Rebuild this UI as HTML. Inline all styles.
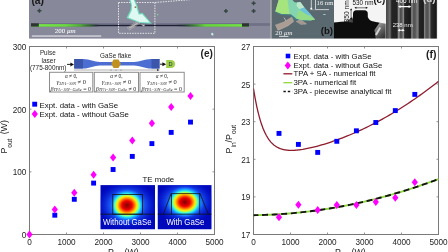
<!DOCTYPE html><html><head><meta charset="utf-8"><style>html,body{margin:0;padding:0;background:#fff;width:448px;height:252px;overflow:hidden}svg{display:block}</style></head><body><svg width="448" height="252" viewBox="0 0 448 252"><defs><filter id="b03" x="-20%" y="-20%" width="140%" height="140%"><feGaussianBlur stdDeviation="0.3"/></filter><filter id="b05" x="-20%" y="-20%" width="140%" height="140%"><feGaussianBlur stdDeviation="0.5"/></filter><filter id="b1" x="-30%" y="-30%" width="160%" height="160%"><feGaussianBlur stdDeviation="1"/></filter><filter id="b2" x="-30%" y="-30%" width="160%" height="160%"><feGaussianBlur stdDeviation="2"/></filter><radialGradient id="jet" cx="0.5" cy="0.5" r="0.5"><stop offset="0" stop-color="#800000"/><stop offset="0.12" stop-color="#b00000"/><stop offset="0.27" stop-color="#ee0000"/><stop offset="0.37" stop-color="#ff5000"/><stop offset="0.45" stop-color="#ffa000"/><stop offset="0.53" stop-color="#ffe800"/><stop offset="0.6" stop-color="#b0ff50"/><stop offset="0.68" stop-color="#40ffd8"/><stop offset="0.76" stop-color="#18c0ff"/><stop offset="0.87" stop-color="#1a70ff"/><stop offset="1" stop-color="#1040ff" stop-opacity="0"/></radialGradient><radialGradient id="glow" cx="0.5" cy="0.5" r="0.5"><stop offset="0" stop-color="#48b0ff"/><stop offset="0.5" stop-color="#2070ff"/><stop offset="1" stop-color="#0a20e0" stop-opacity="0"/></radialGradient><linearGradient id="wg" x1="31" x2="249" y1="0" y2="0" gradientUnits="userSpaceOnUse"><stop offset="0" stop-color="#7ce84c"/><stop offset="0.12" stop-color="#6cd840"/><stop offset="0.26" stop-color="#3c6a48"/><stop offset="0.32" stop-color="#1c1c3a"/><stop offset="0.68" stop-color="#1c1c3a"/><stop offset="0.76" stop-color="#4a9a40"/><stop offset="0.82" stop-color="#70dc44"/><stop offset="1" stop-color="#7ce84c"/></linearGradient><linearGradient id="cgr" x1="0" x2="1" y1="0" y2="1"><stop offset="0" stop-color="#202020"/><stop offset="0.5" stop-color="#8a8a8a"/><stop offset="1" stop-color="#3a3a3a"/></linearGradient></defs><rect x="29" y="0" width="241" height="38.6" fill="#87889a"/><rect x="31" y="24.7" width="218" height="1.5" fill="#1e2036"/><rect x="31" y="23.3" width="239" height="0.8" fill="#5a5a78" opacity="0.6"/><linearGradient id="wgl" x1="31" x2="100" y1="0" y2="0" gradientUnits="userSpaceOnUse"><stop offset="0" stop-color="#78e848"/><stop offset="0.5" stop-color="#6ada40"/><stop offset="0.72" stop-color="#50a83a"/><stop offset="0.9" stop-color="#35603a" stop-opacity="0.7"/><stop offset="1" stop-color="#1e2036" stop-opacity="0"/></linearGradient><rect x="31" y="24.1" width="69" height="2.6" fill="url(#wgl)"/><linearGradient id="wgr" x1="176" x2="249" y1="0" y2="0" gradientUnits="userSpaceOnUse"><stop offset="0" stop-color="#1e2036" stop-opacity="0"/><stop offset="0.2" stop-color="#3c7a3c" stop-opacity="0.8"/><stop offset="0.4" stop-color="#66d43c"/><stop offset="1" stop-color="#74e444"/></linearGradient><rect x="176" y="24.1" width="73" height="2.6" fill="url(#wgr)"/><rect x="31" y="23.3" width="7.8" height="3.3" fill="#2a362e"/><rect x="242" y="23.3" width="7" height="3.3" fill="#2a362e"/><rect x="249" y="24.4" width="21" height="1.2" fill="#50506a" opacity="0.6"/><path d="M37.4 10.8h4M39.4 8.8v4" stroke="#34443f" stroke-width="1.4" filter="url(#b05)"/><path d="M223.9 11h4M225.9 9v4" stroke="#34443f" stroke-width="1.4" filter="url(#b05)"/><path d="M251.6 3.2h4M253.6 1.2000000000000002v4" stroke="#34443f" stroke-width="1.4" filter="url(#b05)"/><path d="M251.6 11h4M253.6 9v4" stroke="#34443f" stroke-width="1.4" filter="url(#b05)"/><rect x="31.9" y="35.3" width="69.3" height="1.5" fill="#d0d0d8"/><text x="54.8" y="33.4" font-family="'Liberation Serif', serif" font-size="7.0" fill="#f6f6f6" stroke="#f6f6f6" stroke-width="0.1">200 <tspan font-style="italic">μm</tspan></text><rect x="118.5" y="2.5" width="36.4" height="30.8" fill="none" stroke="#f0f0f0" stroke-width="0.9" stroke-dasharray="1.5 1.1"/><path d="M155 2.5L192 -0.5" stroke="#f0f0f0" stroke-width="0.9" stroke-dasharray="1.5 1.1"/><path d="M129.4 0L134.8 0L137.2 5L138.4 9.4L139.6 13.4L142.4 12.8L151.9 23.7L139.6 23L126.5 17.9L130.6 9.4L131 5Z" fill="#6edcbc"/><path d="M130.6 0L133.8 0L136 5.2L137.2 10L138.6 14.6L142.2 14.2L149.6 22.6L139.8 22L128.3 17.5L131.8 10.2L132 5Z" fill="#e0f8f2"/><circle cx="135.4" cy="7.2" r="0.9" fill="#9a7a58"/><path d="M127.4 27.6L137.4 21.4L140 23L129.6 30Z" fill="none" stroke="#d8d4d0" stroke-width="0.7" stroke-dasharray="0.8 0.6"/><path d="M128.6 27.6L137 22.4L138.4 23.4L130 28.8Z" fill="#b8b4b0"/><path d="M140.6 24.4L145 24.8L144 26.6Z" fill="#c4c0bc"/><rect x="157" y="14" width="1.2" height="1.2" fill="#80e090"/><ellipse cx="212.3" cy="34.2" rx="1.1" ry="1.4" fill="#c4f0e0" transform="rotate(-30 212.3 34.2)"/><text x="31.4" y="4.0" font-family="'Liberation Sans', sans-serif" font-size="10.3" fill="#1a1a1a" font-weight="bold">(a)</text><rect x="270" y="0" width="2" height="38.6" fill="#a0a4a8"/><rect x="271.8" y="0" width="62.4" height="38.6" fill="#5a6870"/><g filter="url(#b05)"><path d="M278.7 0L292.5 0L294.5 2.2L297 2.5L300.3 2L305.5 9L310.3 14L315.2 19.6L310 20.6L300 19.9L296 18.6L291 14.4L281.5 14L275.3 11.4Z" fill="#84d4b0"/><path d="M278.7 0L287.5 0L289.5 13.9L281.5 14L275.3 11.4Z" fill="#a6e47e"/><path d="M297 2.5L300.3 2L304.4 7.5L299.4 9.2L296.6 6Z" fill="#bee6cc"/><path d="M299.4 9.2L304.4 7.5L311.6 15.6L306.4 14.4Z" fill="#6cc4d8"/><path d="M296 18.6L298.6 10L306.4 14.4L315.2 19.6L310 20.6L300 19.9Z" fill="#94dc86"/><path d="M275.3 11.4L281.5 14L291 14.4L296 18.6L300 19.9L310 20.6L309 21.2L299 21L295 19.8L290 15.4L281 15L275.6 12.6Z" fill="#3c8c90" opacity="0.7"/><path d="M275.5 24.9L283.9 21.9L291.8 17L293.8 21.4L287.9 25.9L278 30.4Z" fill="#ab9d94" stroke="#cfc8c0" stroke-width="0.5" stroke-dasharray="0.7 0.5"/></g><path d="M284 17.6L286 21" stroke="#e0e0e0" stroke-width="0.6"/><path d="M296.3 21.5L300.8 19.5L306.7 24L301 24.6Z" fill="#a39890" stroke="#cfc8c0" stroke-width="0.5" stroke-dasharray="0.7 0.5"/><path d="M311.3 0V8.7M315.5 0V9.6M315.5 9.6H329" stroke="#f0f0f0" stroke-width="0.75"/><path d="M311.5 9.8H315.5" stroke="#a0a8b0" stroke-width="0.6"/><rect x="310.4" y="7.8" width="1.8" height="1.8" fill="#fff"/><text x="316.6" y="5.0" font-family="'Liberation Serif', serif" font-size="6.6" fill="#f4f4f4">16 nm</text><rect x="323.2" y="14" width="2.4" height="1" fill="#a8c0c8"/><text x="275.3" y="35.0" font-family="'Liberation Serif', serif" font-size="6.9" fill="#f4f4f4">20 <tspan font-style="italic">μm</tspan></text><path d="M279 36.4H288.4" stroke="#f4f4f4" stroke-width="0.8"/><text x="320.7" y="33.6" font-family="'Liberation Sans', sans-serif" font-size="9.7" fill="#141414" font-weight="bold">(b)</text><rect x="334" y="0" width="51.8" height="38.6" fill="#f4f4f4"/><linearGradient id="cg2" x1="0" x2="0.6" y1="0" y2="1"><stop offset="0" stop-color="#c8c8c8"/><stop offset="0.4" stop-color="#7a7a7a"/><stop offset="1" stop-color="#383838"/></linearGradient><path d="M379 22.6L385.8 23.8L385.8 38.6L375.5 38.6L374.6 30Z" fill="url(#cg2)" filter="url(#b05)"/><path d="M334 22.6Q342 21.8 347 21.6Q351.5 21 353 18L353 13.7Q353 10.2 356.5 10.2L364.3 10.2Q367.8 10.2 367.8 13.7L367.8 17Q369 20.5 372.5 21.3L379.5 22.8L374.6 30L375.8 38.6L334 38.6Z" fill="#0a0a0a" filter="url(#b03)"/><path d="M344 21.8Q349 20.8 352.2 16.5L353 22.5Z" fill="#4a4a4a" filter="url(#b05)"/><path d="M375.9 35L380.2 27.5" stroke="#cfcfcf" stroke-width="2" filter="url(#b05)"/><text x="352.4" y="5.0" font-family="'Liberation Sans', sans-serif" font-size="6.3" fill="#141414">530 nm</text><text x="373.4" y="2.8" font-family="'Liberation Sans', sans-serif" font-size="9.7" fill="#141414" font-weight="bold">(c)</text><text transform="translate(348.9 22.4) rotate(-90)" font-family="'Liberation Sans', sans-serif" font-size="6.7" fill="#141414">350 nm</text><path d="M355 7.8H367.2M351.1 9V19.2" stroke="#141414" stroke-width="0.6"/><path d="M354.4 7.8L356.4 6.8V8.8ZM367.8 7.8L365.8 6.8V8.8ZM351.1 8.2L350.1 10.2H352.1ZM351.1 19.9L350.1 17.9H352.1Z" fill="#141414"/><linearGradient id="dgr" x1="385.8" x2="437.6" y1="0" y2="0" gradientUnits="userSpaceOnUse"><stop offset="0.0000" stop-color="#e8e8e8"/><stop offset="0.0097" stop-color="#484848"/><stop offset="0.0425" stop-color="#555555"/><stop offset="0.0695" stop-color="#666666"/><stop offset="0.0830" stop-color="#858585"/><stop offset="0.0965" stop-color="#3a3a3a"/><stop offset="0.1236" stop-color="#242424"/><stop offset="0.2201" stop-color="#222222"/><stop offset="0.2394" stop-color="#8a8a8a"/><stop offset="0.2625" stop-color="#808080"/><stop offset="0.2741" stop-color="#4c4c4c"/><stop offset="0.3050" stop-color="#555555"/><stop offset="0.3417" stop-color="#888888"/><stop offset="0.3552" stop-color="#3a3a3a"/><stop offset="0.3726" stop-color="#242424"/><stop offset="0.4749" stop-color="#1a1a1a"/><stop offset="0.5039" stop-color="#929292"/><stop offset="0.5290" stop-color="#555555"/><stop offset="0.5676" stop-color="#555555"/><stop offset="0.6023" stop-color="#7a7a7a"/><stop offset="0.6255" stop-color="#7a7a7a"/><stop offset="0.6409" stop-color="#333333"/><stop offset="0.6506" stop-color="#262626"/><stop offset="0.7259" stop-color="#1c1c1c"/><stop offset="0.7510" stop-color="#929292"/><stop offset="0.7722" stop-color="#555555"/><stop offset="0.8166" stop-color="#555555"/><stop offset="0.8514" stop-color="#888888"/><stop offset="0.8687" stop-color="#333333"/><stop offset="0.8861" stop-color="#282828"/><stop offset="0.9691" stop-color="#181818"/><stop offset="0.9846" stop-color="#555555"/><stop offset="1.0000" stop-color="#fafafa"/></linearGradient><rect x="385.8" y="0" width="51.8" height="38.6" fill="url(#dgr)"/><path d="M399 6.6H410.3M398.5 30.2H403.8" stroke="#fff" stroke-width="1.1"/><path d="M398 6.6L400.6 5.2V8ZM411.2 6.6L408.6 5.2V8ZM397.6 30.2L400 28.9V31.5ZM404.7 30.2L402.3 28.9V31.5Z" fill="#fff"/><text x="396" y="2.6" font-family="'Liberation Sans', sans-serif" font-size="6.4" fill="#f0f0f0">406 nm</text><text x="392.7" y="27.0" font-family="'Liberation Sans', sans-serif" font-size="6.0" fill="#f0f0f0">238 nm</text><text x="423" y="1.8" font-family="'Liberation Sans', sans-serif" font-size="9.9" fill="#d8d8d8" font-weight="bold">(d)</text><rect x="29.5" y="46.5" width="185.0" height="188.0" fill="none" stroke="#7a7a7a" stroke-width="1"/><path d="M29.50 234.5v-2M29.50 46.5v2" stroke="#7a7a7a" stroke-width="0.8"/><path d="M66.50 234.5v-2M66.50 46.5v2" stroke="#7a7a7a" stroke-width="0.8"/><path d="M103.50 234.5v-2M103.50 46.5v2" stroke="#7a7a7a" stroke-width="0.8"/><path d="M140.50 234.5v-2M140.50 46.5v2" stroke="#7a7a7a" stroke-width="0.8"/><path d="M177.50 234.5v-2M177.50 46.5v2" stroke="#7a7a7a" stroke-width="0.8"/><path d="M214.50 234.5v-2M214.50 46.5v2" stroke="#7a7a7a" stroke-width="0.8"/><path d="M29.5 234.50h2M214.5 234.50h-2" stroke="#7a7a7a" stroke-width="0.8"/><path d="M29.5 171.83h2M214.5 171.83h-2" stroke="#7a7a7a" stroke-width="0.8"/><path d="M29.5 109.17h2M214.5 109.17h-2" stroke="#7a7a7a" stroke-width="0.8"/><path d="M29.5 46.50h2M214.5 46.50h-2" stroke="#7a7a7a" stroke-width="0.8"/><text x="29.50" y="244.8" text-anchor="middle" font-family="'Liberation Sans', sans-serif" font-size="8.2" fill="#1e1e1e">0</text><text x="66.50" y="244.8" text-anchor="middle" font-family="'Liberation Sans', sans-serif" font-size="8.2" fill="#1e1e1e">1000</text><text x="103.50" y="244.8" text-anchor="middle" font-family="'Liberation Sans', sans-serif" font-size="8.2" fill="#1e1e1e">2000</text><text x="140.50" y="244.8" text-anchor="middle" font-family="'Liberation Sans', sans-serif" font-size="8.2" fill="#1e1e1e">3000</text><text x="177.50" y="244.8" text-anchor="middle" font-family="'Liberation Sans', sans-serif" font-size="8.2" fill="#1e1e1e">4000</text><text x="214.50" y="244.8" text-anchor="middle" font-family="'Liberation Sans', sans-serif" font-size="8.2" fill="#1e1e1e">5000</text><text x="26.3" y="237.90" text-anchor="end" font-family="'Liberation Sans', sans-serif" font-size="8.2" fill="#1e1e1e">0</text><text x="26.3" y="175.23" text-anchor="end" font-family="'Liberation Sans', sans-serif" font-size="8.2" fill="#1e1e1e">100</text><text x="26.3" y="112.57" text-anchor="end" font-family="'Liberation Sans', sans-serif" font-size="8.2" fill="#1e1e1e">200</text><text x="26.3" y="49.90" text-anchor="end" font-family="'Liberation Sans', sans-serif" font-size="8.2" fill="#1e1e1e">300</text><text x="212.9" y="57.3" text-anchor="end" font-family="'Liberation Sans', sans-serif" font-size="10.1" fill="#1e1e1e" font-weight="bold">(e)</text><text transform="translate(7.0 153.6) rotate(-90)" font-family="'Liberation Sans', sans-serif" font-size="8.8" fill="#1e1e1e">P<tspan font-size="6.6" dy="4.6">out</tspan><tspan dy="-4.6" dx="1.8"> (W)</tspan></text><text x="108.0" y="254.6" font-family="'Liberation Sans', sans-serif" font-size="8.8" fill="#1e1e1e">P<tspan font-size="6.6" dy="4.6">in</tspan><tspan dy="-4.6" dx="3.0"> (W)</tspan></text><text x="47.8" y="54.6" text-anchor="middle" font-family="'Liberation Sans', sans-serif" font-size="6.3" fill="#1e1e1e">Pulse</text><text x="48.5" y="62.6" text-anchor="middle" font-family="'Liberation Sans', sans-serif" font-size="6.5" fill="#1e1e1e">laser</text><text x="48.2" y="69.8" text-anchor="middle" font-family="'Liberation Sans', sans-serif" font-size="6.4" fill="#1e1e1e">(775-800nm)</text><path d="M67 64.4H71.5" stroke="#111" stroke-width="0.9"/><path d="M74 64.4L70.4 62.4L70.4 66.4Z" fill="#111"/><path d="M74.2 59H83C90 59 94 62 100 62H134C140 62 144 59 151.5 59H159.5V68.5H151.5C144 68.5 140 65.4 134 65.4H100C94 65.4 90 68.5 83 68.5H74.2Z" fill="#4c6ed2"/><rect x="74.2" y="59" width="8.8" height="9.5" fill="#3b55aa"/><rect x="151.5" y="59" width="8" height="9.5" fill="#3b55aa"/><path d="M111.2 63.7L113.6 59.4H118.5L120.9 63.7L118.5 68H113.6Z" fill="#c09020"/><path d="M74 70H157.5" stroke="#b0b0b0" stroke-width="1"/><path d="M159.8 70L157 68.7L157 71.3Z" fill="#444"/><path d="M111 69.5v1.4M116 69.5v1.4M121 69.5v1.4" stroke="#555" stroke-width="0.5"/><path d="M160 64.2H163" stroke="#111" stroke-width="0.9"/><path d="M166.2 64.2L162.4 62.2L162.4 66.2Z" fill="#111"/><path d="M166.2 60H170.8Q175 60 175 64Q175 68 170.8 68H166.2Z" fill="#9ccf4c"/><text x="170.4" y="66.1" text-anchor="middle" font-family="'Liberation Sans', sans-serif" font-size="5.6" fill="#303030">D</text><text x="100.1" y="57.5" font-family="'Liberation Sans', sans-serif" font-size="6.3" fill="#1e1e1e">GaSe flake</text><rect x="49.5" y="72.3" width="43.3" height="19.7" fill="#fff" stroke="#8c8c8c" stroke-width="1"/><text x="71.2" y="78.0" text-anchor="middle" font-family="'Liberation Serif', serif" font-size="5.8" fill="#2a2a2a" textLength="12.5" lengthAdjust="spacingAndGlyphs"><tspan font-style="italic">α</tspan> ≠ 0,</text><text x="71.2" y="83.7" text-anchor="middle" font-family="'Liberation Serif', serif" font-size="5.8" fill="#2a2a2a" textLength="29.5" lengthAdjust="spacingAndGlyphs"><tspan font-style="italic">γ<tspan font-size="4.1" dy="0.9">3PA−SiN</tspan></tspan><tspan dy="-0.9"> ≠ 0</tspan></text><text x="70.8" y="90.6" text-anchor="middle" font-family="'Liberation Serif', serif" font-size="5.8" fill="#2a2a2a" textLength="40.6" lengthAdjust="spacingAndGlyphs"><tspan font-style="italic">β<tspan font-size="4.1" dy="0.5">TPA−SiN−GaSe</tspan></tspan><tspan dy="-0.5"> = 0</tspan></text><rect x="94.3" y="72.3" width="44.2" height="19.7" fill="#fff" stroke="#8c8c8c" stroke-width="1"/><text x="116.4" y="78.0" text-anchor="middle" font-family="'Liberation Serif', serif" font-size="5.8" fill="#2a2a2a" textLength="12.5" lengthAdjust="spacingAndGlyphs"><tspan font-style="italic">α</tspan> ≠ 0,</text><text x="116.4" y="83.7" text-anchor="middle" font-family="'Liberation Serif', serif" font-size="5.8" fill="#2a2a2a" textLength="29.5" lengthAdjust="spacingAndGlyphs"><tspan font-style="italic">γ<tspan font-size="4.1" dy="0.9">3PA−SiN</tspan></tspan><tspan dy="-0.9"> ≠ 0</tspan></text><text x="116.0" y="90.6" text-anchor="middle" font-family="'Liberation Serif', serif" font-size="5.8" fill="#2a2a2a" textLength="40.6" lengthAdjust="spacingAndGlyphs"><tspan font-style="italic">β<tspan font-size="4.1" dy="0.5">TPA−SiN−GaSe</tspan></tspan><tspan dy="-0.5"> ≠ 0</tspan></text><rect x="140" y="72.3" width="44.19999999999999" height="19.7" fill="#fff" stroke="#8c8c8c" stroke-width="1"/><text x="162.1" y="78.0" text-anchor="middle" font-family="'Liberation Serif', serif" font-size="5.8" fill="#2a2a2a" textLength="12.5" lengthAdjust="spacingAndGlyphs"><tspan font-style="italic">α</tspan> ≠ 0,</text><text x="162.1" y="83.7" text-anchor="middle" font-family="'Liberation Serif', serif" font-size="5.8" fill="#2a2a2a" textLength="29.5" lengthAdjust="spacingAndGlyphs"><tspan font-style="italic">γ<tspan font-size="4.1" dy="0.9">3PA−SiN</tspan></tspan><tspan dy="-0.9"> ≠ 0</tspan></text><text x="161.7" y="90.6" text-anchor="middle" font-family="'Liberation Serif', serif" font-size="5.8" fill="#2a2a2a" textLength="40.6" lengthAdjust="spacingAndGlyphs"><tspan font-style="italic">β<tspan font-size="4.1" dy="0.5">TPA−SiN−GaSe</tspan></tspan><tspan dy="-0.5"> = 0</tspan></text><rect x="32.25" y="101.75" width="4.9" height="4.9" fill="#0000ff"/><path d="M34.80 110.00L37.90 114.00L34.80 118.00L31.70 114.00Z" fill="#ff00ff"/><text x="39.6" y="107.5" font-family="'Liberation Sans', sans-serif" font-size="7.85" fill="#111">Expt. data - with GaSe</text><text x="39.6" y="116.9" font-family="'Liberation Sans', sans-serif" font-size="7.85" fill="#111">Expt. data - without GaSe</text><path d="M29.50 230.50L32.60 234.50L29.50 238.50L26.40 234.50Z" fill="#ff00ff"/><rect x="52.35" y="212.75" width="4.9" height="4.9" fill="#0000ff"/><path d="M54.80 205.60L57.90 209.60L54.80 213.60L51.70 209.60Z" fill="#ff00ff"/><rect x="71.85" y="196.85" width="4.9" height="4.9" fill="#0000ff"/><path d="M74.30 188.80L77.40 192.80L74.30 196.80L71.20 192.80Z" fill="#ff00ff"/><rect x="91.15" y="180.65" width="4.9" height="4.9" fill="#0000ff"/><path d="M93.60 170.80L96.70 174.80L93.60 178.80L90.50 174.80Z" fill="#ff00ff"/><rect x="110.65" y="167.05" width="4.9" height="4.9" fill="#0000ff"/><path d="M113.10 153.60L116.20 157.60L113.10 161.60L110.00 157.60Z" fill="#ff00ff"/><rect x="129.85" y="153.95" width="4.9" height="4.9" fill="#0000ff"/><path d="M132.30 136.50L135.40 140.50L132.30 144.50L129.20 140.50Z" fill="#ff00ff"/><rect x="149.45" y="141.15" width="4.9" height="4.9" fill="#0000ff"/><path d="M151.90 119.30L155.00 123.30L151.90 127.30L148.80 123.30Z" fill="#ff00ff"/><rect x="168.75" y="129.95" width="4.9" height="4.9" fill="#0000ff"/><path d="M171.20 103.10L174.30 107.10L171.20 111.10L168.10 107.10Z" fill="#ff00ff"/><rect x="188.05" y="119.65" width="4.9" height="4.9" fill="#0000ff"/><path d="M190.50 92.00L193.60 96.00L190.50 100.00L187.40 96.00Z" fill="#ff00ff"/><svg x="100.3" y="185.1" width="54.7" height="44.4" viewBox="0 0 54.7 44.4" overflow="hidden"><rect width="54.7" height="44.4" fill="#0008bc"/><ellipse cx="26.7" cy="20.2" rx="30" ry="24" fill="url(#glow)"/><clipPath id="cpw"><rect x="12.5" y="-5" width="29.7" height="40"/></clipPath><ellipse cx="26.7" cy="20.2" rx="18.6" ry="16.6" fill="url(#jet)" clip-path="url(#cpw)"/><path d="M0 29.1H54.7" stroke="#111" stroke-width="0.8"/><rect x="12.5" y="9.4" width="29.7" height="19.7" fill="none" stroke="#111" stroke-width="0.8"/><text x="26.950000000000003" y="40.0" text-anchor="middle" font-family="'Liberation Sans', sans-serif" font-size="8.3" fill="#fff" textLength="48.5" lengthAdjust="spacingAndGlyphs">Without GaSe</text></svg><svg x="157.5" y="185.1" width="54.2" height="44.4" viewBox="0 0 54.2 44.4" overflow="hidden"><rect width="54.2" height="44.4" fill="#0008bc"/><ellipse cx="27.4" cy="17.0" rx="30" ry="22" fill="url(#glow)"/><clipPath id="cpg"><path d="M5.8 29.2L13.8 8.5H42.3L50.8 29.2Z"/></clipPath><ellipse cx="27.4" cy="17.0" rx="20" ry="16.5" fill="url(#jet)" opacity="0.55" clip-path="url(#cpg)"/><clipPath id="cpr"><rect x="14" y="-5" width="28.2" height="40"/></clipPath><ellipse cx="27.4" cy="17.0" rx="19" ry="16" fill="url(#jet)" clip-path="url(#cpr)"/><path d="M0 29.1H54.2" stroke="#111" stroke-width="0.8"/><path d="M5.8 29.1L13.6 8.5H42.5L50.8 29.1M14 8.5V29.1M42.2 8.5V29.1" fill="none" stroke="#111" stroke-width="0.8"/><text x="27.900000000000002" y="40.0" text-anchor="middle" font-family="'Liberation Sans', sans-serif" font-size="8.3" fill="#fff" textLength="37.9" lengthAdjust="spacingAndGlyphs">With GaSe</text></svg><text x="158.4" y="182.3" text-anchor="middle" font-family="'Liberation Sans', sans-serif" font-size="7.8" fill="#111">TE mode</text><rect x="253.5" y="46.5" width="185.0" height="188.0" fill="none" stroke="#7a7a7a" stroke-width="1"/><path d="M253.50 234.5v-2M253.50 46.5v2" stroke="#7a7a7a" stroke-width="0.8"/><path d="M290.50 234.5v-2M290.50 46.5v2" stroke="#7a7a7a" stroke-width="0.8"/><path d="M327.50 234.5v-2M327.50 46.5v2" stroke="#7a7a7a" stroke-width="0.8"/><path d="M364.50 234.5v-2M364.50 46.5v2" stroke="#7a7a7a" stroke-width="0.8"/><path d="M401.50 234.5v-2M401.50 46.5v2" stroke="#7a7a7a" stroke-width="0.8"/><path d="M438.50 234.5v-2M438.50 46.5v2" stroke="#7a7a7a" stroke-width="0.8"/><path d="M253.5 234.50h2M438.5 234.50h-2" stroke="#7a7a7a" stroke-width="0.8"/><path d="M253.5 196.90h2M438.5 196.90h-2" stroke="#7a7a7a" stroke-width="0.8"/><path d="M253.5 159.30h2M438.5 159.30h-2" stroke="#7a7a7a" stroke-width="0.8"/><path d="M253.5 121.70h2M438.5 121.70h-2" stroke="#7a7a7a" stroke-width="0.8"/><path d="M253.5 84.10h2M438.5 84.10h-2" stroke="#7a7a7a" stroke-width="0.8"/><path d="M253.5 46.50h2M438.5 46.50h-2" stroke="#7a7a7a" stroke-width="0.8"/><text x="253.50" y="244.8" text-anchor="middle" font-family="'Liberation Sans', sans-serif" font-size="8.2" fill="#1e1e1e">0</text><text x="290.50" y="244.8" text-anchor="middle" font-family="'Liberation Sans', sans-serif" font-size="8.2" fill="#1e1e1e">1000</text><text x="327.50" y="244.8" text-anchor="middle" font-family="'Liberation Sans', sans-serif" font-size="8.2" fill="#1e1e1e">2000</text><text x="364.50" y="244.8" text-anchor="middle" font-family="'Liberation Sans', sans-serif" font-size="8.2" fill="#1e1e1e">3000</text><text x="401.50" y="244.8" text-anchor="middle" font-family="'Liberation Sans', sans-serif" font-size="8.2" fill="#1e1e1e">4000</text><text x="438.50" y="244.8" text-anchor="middle" font-family="'Liberation Sans', sans-serif" font-size="8.2" fill="#1e1e1e">5000</text><text x="250.3" y="237.90" text-anchor="end" font-family="'Liberation Sans', sans-serif" font-size="8.2" fill="#1e1e1e">17</text><text x="250.3" y="200.30" text-anchor="end" font-family="'Liberation Sans', sans-serif" font-size="8.2" fill="#1e1e1e">19</text><text x="250.3" y="162.70" text-anchor="end" font-family="'Liberation Sans', sans-serif" font-size="8.2" fill="#1e1e1e">21</text><text x="250.3" y="125.10" text-anchor="end" font-family="'Liberation Sans', sans-serif" font-size="8.2" fill="#1e1e1e">23</text><text x="250.3" y="87.50" text-anchor="end" font-family="'Liberation Sans', sans-serif" font-size="8.2" fill="#1e1e1e">25</text><text x="250.3" y="49.90" text-anchor="end" font-family="'Liberation Sans', sans-serif" font-size="8.2" fill="#1e1e1e">27</text><text x="436.4" y="57.6" text-anchor="end" font-family="'Liberation Sans', sans-serif" font-size="10.5" fill="#1e1e1e" font-weight="bold">(f)</text><text transform="translate(231.5 153.4) rotate(-90)" font-family="'Liberation Sans', sans-serif" font-size="8.8" fill="#1e1e1e">P<tspan font-size="6.6" dy="4.6">in</tspan><tspan dy="-4.6">/P</tspan><tspan font-size="6.6" dy="4.6">out</tspan></text><text x="335.1" y="254.6" font-family="'Liberation Sans', sans-serif" font-size="8.8" fill="#1e1e1e">P<tspan font-size="6.6" dy="4.6">in</tspan><tspan dy="-4.6" dx="3.0"> (W)</tspan></text><clipPath id="fclip"><rect x="253.5" y="46.5" width="185" height="187.5"/></clipPath><path d="M253.50 88.54L253.89 90.99L254.28 93.35L254.67 95.62L255.06 97.81L255.45 99.91L255.84 101.94L256.24 103.90L256.63 105.78L257.02 107.59L257.41 109.33L257.80 111.01L258.19 112.63L258.58 114.19L258.97 115.69L259.36 117.13L259.75 118.52L260.14 119.86L260.53 121.14L260.92 122.38L261.32 123.58L261.71 124.72L262.10 125.83L262.49 126.89L262.88 127.91L263.27 128.90L263.66 129.84L264.05 130.75L264.44 131.63L264.83 132.47L265.22 133.28L265.61 134.06L266.00 134.81L266.39 135.53L266.79 136.22L267.18 136.88L267.57 137.52L267.96 138.14L268.35 138.73L268.74 139.29L269.13 139.84L269.52 140.36L269.91 140.86L270.30 141.34L270.69 141.81L271.08 142.25L271.47 142.67L271.87 143.08L272.26 143.47L272.65 143.85L273.04 144.21L273.43 144.55L273.82 144.88L274.21 145.20L274.60 145.50L274.99 145.79L275.38 146.06L275.77 146.33L276.16 146.58L276.55 146.82L276.95 147.05L277.34 147.27L277.73 147.48L278.12 147.67L278.51 147.86L278.90 148.04L279.29 148.21L279.68 148.38L280.07 148.53L280.46 148.68L280.85 148.82L281.24 148.95L281.63 149.07L282.03 149.19L282.42 149.30L282.81 149.40L283.20 149.50L283.59 149.59L283.98 149.67L284.37 149.75L284.76 149.82L285.15 149.89L285.54 149.95L285.93 150.01L286.32 150.07L286.71 150.11L287.11 150.16L287.50 150.20L287.89 150.23L288.28 150.26L288.67 150.29L289.06 150.31L289.45 150.33L289.84 150.35L290.23 150.36L290.62 150.37L291.01 150.37L291.40 150.37L291.79 150.37L292.18 150.37L292.58 150.36L292.97 150.35L293.36 150.33L293.75 150.32L294.14 150.30L294.53 150.28L294.92 150.25L295.31 150.23L295.70 150.20L296.09 150.17L296.48 150.14L296.87 150.10L297.26 150.06L297.66 150.02L298.05 149.98L298.44 149.94L298.83 149.89L299.22 149.85L299.61 149.80L300.00 149.75L300.50 149.68L302.84 149.33L305.18 148.92L307.52 148.47L309.86 147.97L312.19 147.43L314.53 146.86L316.87 146.26L319.21 145.63L321.55 144.96L323.89 144.27L326.23 143.55L328.57 142.81L330.91 142.04L333.25 141.24L335.58 140.42L337.92 139.58L340.26 138.71L342.60 137.82L344.94 136.90L347.28 135.96L349.62 135.00L351.96 134.01L354.30 133.00L356.64 131.97L358.97 130.92L361.31 129.84L363.65 128.73L365.99 127.61L368.33 126.46L370.67 125.29L373.01 124.10L375.35 122.88L377.69 121.64L380.03 120.38L382.36 119.09L384.70 117.78L387.04 116.45L389.38 115.09L391.72 113.72L394.06 112.31L396.40 110.89L398.74 109.44L401.08 107.97L403.42 106.48L405.75 104.97L408.09 103.43L410.43 101.86L412.77 100.28L415.11 98.67L417.45 97.04L419.79 95.39L422.13 93.71L424.47 92.01L426.81 90.29L429.14 88.54L431.48 86.78L433.82 84.98L436.16 83.17L438.50 81.33" fill="none" stroke="#8e1b2e" stroke-width="1.3" clip-path="url(#fclip)"/><path d="M253.50 215.20L255.84 215.16L258.18 215.12L260.53 215.06L262.87 214.99L265.21 214.91L267.55 214.82L269.89 214.72L272.23 214.61L274.58 214.49L276.92 214.36L279.26 214.21L281.60 214.06L283.94 213.89L286.28 213.72L288.63 213.53L290.97 213.33L293.31 213.12L295.65 212.90L297.99 212.67L300.34 212.43L302.68 212.18L305.02 211.92L307.36 211.64L309.70 211.36L312.04 211.06L314.39 210.76L316.73 210.44L319.07 210.11L321.41 209.77L323.75 209.42L326.09 209.06L328.44 208.69L330.78 208.31L333.12 207.92L335.46 207.51L337.80 207.10L340.15 206.67L342.49 206.23L344.83 205.79L347.17 205.33L349.51 204.86L351.85 204.38L354.20 203.89L356.54 203.39L358.88 202.88L361.22 202.35L363.56 201.82L365.91 201.28L368.25 200.72L370.59 200.15L372.93 199.58L375.27 198.99L377.61 198.39L379.96 197.78L382.30 197.16L384.64 196.53L386.98 195.89L389.32 195.23L391.66 194.57L394.01 193.90L396.35 193.21L398.69 192.51L401.03 191.81L403.37 191.09L405.72 190.36L408.06 189.62L410.40 188.87L412.74 188.11L415.08 187.34L417.42 186.56L419.77 185.76L422.11 184.96L424.45 184.14L426.79 183.32L429.13 182.48L431.47 181.63L433.82 180.77L436.16 179.90L438.50 179.02" fill="none" stroke="#90d840" stroke-width="1.9"/><path d="M253.50 215.20L255.84 215.16L258.18 215.12L260.53 215.06L262.87 214.99L265.21 214.91L267.55 214.82L269.89 214.72L272.23 214.61L274.58 214.49L276.92 214.36L279.26 214.21L281.60 214.06L283.94 213.89L286.28 213.72L288.63 213.53L290.97 213.33L293.31 213.12L295.65 212.90L297.99 212.67L300.34 212.43L302.68 212.18L305.02 211.92L307.36 211.64L309.70 211.36L312.04 211.06L314.39 210.76L316.73 210.44L319.07 210.11L321.41 209.77L323.75 209.42L326.09 209.06L328.44 208.69L330.78 208.31L333.12 207.92L335.46 207.51L337.80 207.10L340.15 206.67L342.49 206.23L344.83 205.79L347.17 205.33L349.51 204.86L351.85 204.38L354.20 203.89L356.54 203.39L358.88 202.88L361.22 202.35L363.56 201.82L365.91 201.28L368.25 200.72L370.59 200.15L372.93 199.58L375.27 198.99L377.61 198.39L379.96 197.78L382.30 197.16L384.64 196.53L386.98 195.89L389.32 195.23L391.66 194.57L394.01 193.90L396.35 193.21L398.69 192.51L401.03 191.81L403.37 191.09L405.72 190.36L408.06 189.62L410.40 188.87L412.74 188.11L415.08 187.34L417.42 186.56L419.77 185.76L422.11 184.96L424.45 184.14L426.79 183.32L429.13 182.48L431.47 181.63L433.82 180.77L436.16 179.90L438.50 179.02" fill="none" stroke="#141414" stroke-width="1.9" stroke-dasharray="5.9 3.7" stroke-dashoffset="1"/><rect x="276.55" y="130.95" width="4.9" height="4.9" fill="#0000ff"/><path d="M279.00 213.20L282.10 217.20L279.00 221.20L275.90 217.20Z" fill="#ff00ff"/><rect x="295.95" y="141.95" width="4.9" height="4.9" fill="#0000ff"/><path d="M298.40 200.70L301.50 204.70L298.40 208.70L295.30 204.70Z" fill="#ff00ff"/><rect x="315.25" y="149.95" width="4.9" height="4.9" fill="#0000ff"/><path d="M317.70 206.10L320.80 210.10L317.70 214.10L314.60 210.10Z" fill="#ff00ff"/><rect x="334.35" y="138.85" width="4.9" height="4.9" fill="#0000ff"/><path d="M336.80 201.10L339.90 205.10L336.80 209.10L333.70 205.10Z" fill="#ff00ff"/><rect x="353.95" y="128.35" width="4.9" height="4.9" fill="#0000ff"/><path d="M356.40 201.10L359.50 205.10L356.40 209.10L353.30 205.10Z" fill="#ff00ff"/><rect x="373.35" y="120.05" width="4.9" height="4.9" fill="#0000ff"/><path d="M375.80 198.00L378.90 202.00L375.80 206.00L372.70 202.00Z" fill="#ff00ff"/><rect x="392.85" y="108.15" width="4.9" height="4.9" fill="#0000ff"/><path d="M395.30 193.80L398.40 197.80L395.30 201.80L392.20 197.80Z" fill="#ff00ff"/><rect x="412.35" y="91.95" width="4.9" height="4.9" fill="#0000ff"/><path d="M414.80 178.30L417.90 182.30L414.80 186.30L411.70 182.30Z" fill="#ff00ff"/><rect x="285.70" y="53.70" width="4.6" height="4.6" fill="#0000ff"/><path d="M287.80 61.50L290.90 65.50L287.80 69.50L284.70 65.50Z" fill="#ff00ff"/><path d="M283.4 73.8H292.3" stroke="#8e1b2e" stroke-width="1.3"/><path d="M283.4 82.7H292.3" stroke="#90d840" stroke-width="1.3"/><path d="M283.4 91.5H292.3" stroke="#141414" stroke-width="1.3" stroke-dasharray="2.4 2"/><text x="293.5" y="59.00" font-family="'Liberation Sans', sans-serif" font-size="7.8" fill="#111">Expt. data - with GaSe</text><text x="293.5" y="67.70" font-family="'Liberation Sans', sans-serif" font-size="7.8" fill="#111">Expt. data - without GaSe</text><text x="293.5" y="76.40" font-family="'Liberation Sans', sans-serif" font-size="7.8" fill="#111">TPA + SA - numerical fit</text><text x="293.5" y="85.10" font-family="'Liberation Sans', sans-serif" font-size="7.8" fill="#111">3PA - numerical fit</text><text x="293.5" y="93.80" font-family="'Liberation Sans', sans-serif" font-size="7.8" fill="#111">3PA - piecewise analytical fit</text></svg></body></html>
